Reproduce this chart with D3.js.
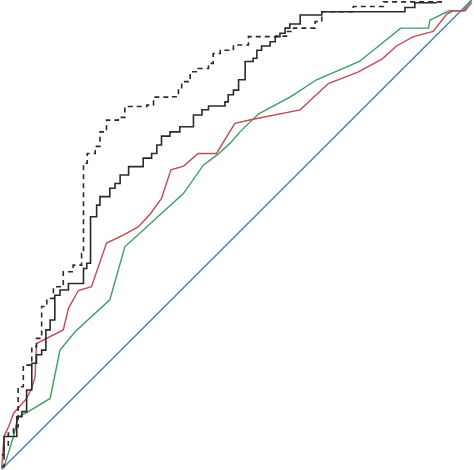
<!DOCTYPE html>
<html>
<head>
<meta charset="utf-8">
<script src="https://cdn.jsdelivr.net/npm/d3@7"></script>
<style>
  html, body { margin: 0; padding: 0; background: #fff; }
  svg { display: block; }
</style>
</head>
<body>
<script>
// ROC curves, values as [false positive rate, true positive rate]
const solidRoc = [
  [0, 0.031], [0.005, 0.070], [0.032, 0.112], [0.043, 0.123], [0.053, 0.169],
  [0.064, 0.226], [0.074, 0.244], [0.085, 0.254], [0.094, 0.297], [0.103, 0.318],
  [0.113, 0.371], [0.124, 0.382], [0.142, 0.396], [0.174, 0.428], [0.181, 0.439],
  [0.189, 0.538], [0.202, 0.563], [0.209, 0.581], [0.230, 0.599], [0.241, 0.609],
  [0.252, 0.627], [0.270, 0.645], [0.301, 0.663], [0.319, 0.673], [0.330, 0.691],
  [0.340, 0.710], [0.358, 0.719], [0.379, 0.730], [0.408, 0.755], [0.426, 0.766],
  [0.440, 0.774], [0.475, 0.783], [0.482, 0.798], [0.493, 0.808], [0.504, 0.830],
  [0.518, 0.869], [0.535, 0.876], [0.543, 0.893], [0.553, 0.902], [0.571, 0.911],
  [0.582, 0.922], [0.592, 0.929], [0.603, 0.940], [0.613, 0.949], [0.635, 0.968],
  [0.681, 0.975], [0.858, 0.984], [0.879, 0.994], [0.926, 0.994]
];
const dashedRoc = [
  [0, 0.006], [0.005, 0.048], [0.014, 0.077], [0.025, 0.091], [0.035, 0.176],
  [0.046, 0.222], [0.064, 0.261], [0.074, 0.279], [0.085, 0.347], [0.096, 0.364],
  [0.110, 0.389], [0.131, 0.421], [0.152, 0.435], [0.170, 0.460], [0.174, 0.652],
  [0.182, 0.673], [0.199, 0.688], [0.209, 0.719], [0.223, 0.744], [0.248, 0.750],
  [0.262, 0.773], [0.309, 0.776], [0.323, 0.793], [0.358, 0.794], [0.376, 0.808],
  [0.383, 0.826], [0.401, 0.847], [0.418, 0.854], [0.440, 0.865], [0.450, 0.886],
  [0.465, 0.893], [0.493, 0.904], [0.525, 0.922], [0.585, 0.923], [0.606, 0.933],
  [0.621, 0.940], [0.667, 0.954], [0.681, 0.975], [0.748, 0.986], [0.812, 0.996],
  [0.940, 0.996]
];
const redRoc = [
  [0, 0.002], [0.005, 0.070], [0.016, 0.094], [0.025, 0.119], [0.053, 0.151],
  [0.064, 0.173], [0.071, 0.197], [0.074, 0.268], [0.131, 0.297], [0.142, 0.343],
  [0.163, 0.381], [0.191, 0.389], [0.223, 0.482], [0.259, 0.499], [0.291, 0.517],
  [0.316, 0.544], [0.340, 0.577], [0.360, 0.638], [0.387, 0.646], [0.418, 0.673],
  [0.457, 0.673], [0.496, 0.737], [0.535, 0.746], [0.635, 0.766], [0.695, 0.822],
  [0.759, 0.847], [0.809, 0.874], [0.840, 0.902], [0.876, 0.922], [0.918, 0.933],
  [0.947, 0.970], [0.961, 0.977], [0.986, 0.977], [1, 0.995]
];
const greenRoc = [
  [0.004, 0.002], [0.025, 0.070], [0.035, 0.112], [0.053, 0.121], [0.103, 0.151],
  [0.124, 0.254], [0.156, 0.293], [0.230, 0.361], [0.262, 0.474], [0.387, 0.588],
  [0.429, 0.648], [0.461, 0.672], [0.486, 0.695], [0.507, 0.719], [0.546, 0.757],
  [0.615, 0.794], [0.670, 0.830], [0.761, 0.869], [0.849, 0.940], [0.908, 0.940],
  [0.911, 0.957], [0.952, 0.977], [0.982, 0.977], [1, 1]
];
const chanceLine = [[0, 0], [1, 1]];

const WIDTH = 474;
const HEIGHT = 470;

const x = d3.scaleLinear().domain([0, 1]).range([1.7, 471.7]);
const y = d3.scaleLinear().domain([0, 1]).range([469.3, 0]);

const svg = d3.select('body')
  .append('svg')
  .attr('width', WIDTH)
  .attr('height', HEIGHT);

const straight = d3.line()
  .x(function (d) { return x(d[0]); })
  .y(function (d) { return y(d[1]); });

const stepped = d3.line()
  .x(function (d) { return x(d[0]); })
  .y(function (d) { return y(d[1]); })
  .curve(d3.curveStepAfter);

// draw order: diagonal, green, red, then the two black step curves on top
svg.append('path')
  .attr('d', straight(chanceLine))
  .attr('fill', 'none')
  .attr('stroke', '#4a7db8')
  .attr('stroke-width', 1.4);

svg.append('path')
  .attr('d', straight(greenRoc))
  .attr('fill', 'none')
  .attr('stroke', '#3d9e62')
  .attr('stroke-width', 1.4);

svg.append('path')
  .attr('d', straight(redRoc))
  .attr('fill', 'none')
  .attr('stroke', '#c44a55')
  .attr('stroke-width', 1.4);

svg.append('path')
  .attr('d', stepped(dashedRoc))
  .attr('fill', 'none')
  .attr('stroke', '#2a2a2a')
  .attr('stroke-width', 1.6)
  .attr('stroke-dasharray', '5,4');

svg.append('path')
  .attr('d', stepped(solidRoc))
  .attr('fill', 'none')
  .attr('stroke', '#2a2a2a')
  .attr('stroke-width', 1.6);
</script>
</body>
</html>
